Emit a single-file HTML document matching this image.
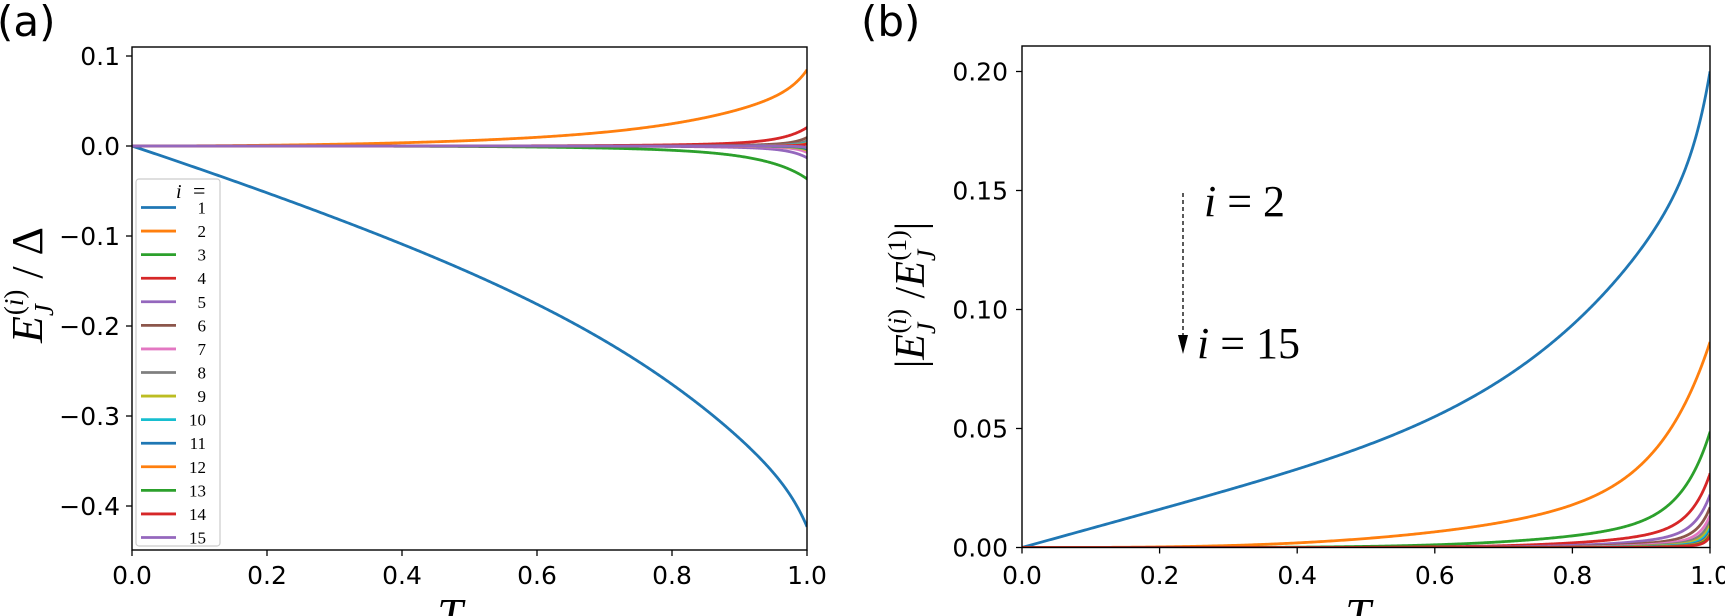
<!DOCTYPE html>
<html><head><meta charset="utf-8"><style>
html,body{margin:0;padding:0;background:#fff;}
svg{display:block;}
.tk{font-family:"DejaVu Sans","Liberation Sans",sans-serif;font-size:25px;fill:#000;}
.m{font-family:"Liberation Serif",serif;font-style:italic;fill:#000;}
.r{font-family:"Liberation Serif",serif;fill:#000;}
</style></head><body>
<svg id="s" width="1725" height="616" viewBox="0 0 1725 616" xmlns="http://www.w3.org/2000/svg">
<defs>
<clipPath id="cA"><rect x="132" y="47" width="675" height="503"/></clipPath>
<clipPath id="cB"><rect x="1022" y="46" width="688" height="501.5"/></clipPath>
</defs>
<text x="-3" y="36" class="tk" style="font-size:42px">(a)</text>
<text x="861" y="36" class="tk" style="font-size:42px">(b)</text>
<g id="A" clip-path="url(#cA)"></g>
<g id="B" clip-path="url(#cB)"></g>
<rect x="132" y="47" width="675" height="503" fill="none" stroke="#000" stroke-width="1.4"/>
<rect x="1022" y="46" width="688" height="501.5" fill="none" stroke="#000" stroke-width="1.4"/>
<g id="T"></g>
<!-- legend -->
<rect x="136" y="179" width="84" height="367" rx="3" fill="#fff" fill-opacity="0.8" stroke="#ccc" stroke-width="1.2"/>
<g id="L"></g>
<text x="176" y="198" class="m" style="font-size:20px">i</text>
<text x="193" y="198" class="r" style="font-size:22px">=</text>
<!-- axis labels -->
<text transform="translate(42,285) rotate(-90)" text-anchor="middle" class="m" style="font-size:44px">E<tspan class="m" style="font-size:27px" dy="11">J</tspan><tspan class="r" style="font-size:27px;font-style:normal" dy="-30" dx="-11">(</tspan><tspan style="font-size:27px">i</tspan><tspan class="r" style="font-size:27px;font-style:normal">)</tspan><tspan class="r" style="font-style:normal" dy="19"> / Δ</tspan></text>
<text transform="translate(924,295) rotate(-90)" text-anchor="middle" class="m" style="font-size:42px"><tspan class="r" style="font-style:normal">|</tspan>E<tspan style="font-size:26px" dy="11">J</tspan><tspan class="r" style="font-size:26px;font-style:normal" dy="-29" dx="-11">(</tspan><tspan style="font-size:26px">i</tspan><tspan class="r" style="font-size:26px;font-style:normal">)</tspan><tspan class="r" style="font-style:normal" dy="18"> /</tspan>E<tspan style="font-size:26px" dy="11">J</tspan><tspan class="r" style="font-size:26px;font-style:normal" dy="-29" dx="-11">(1)</tspan><tspan class="r" style="font-style:normal" dy="18">|</tspan></text>
<text x="450" y="630" text-anchor="middle" class="m" style="font-size:46px">T</text>
<text x="1358" y="630" text-anchor="middle" class="m" style="font-size:46px">T</text>
<!-- annotations -->
<line x1="1183" y1="193" x2="1183" y2="340" stroke="#000" stroke-width="1.3" stroke-dasharray="4,3"/>
<polygon points="1178,335 1188,335 1183,354" fill="#000"/>
<text x="1204" y="216" class="m" style="font-size:44px">i <tspan class="r" style="font-style:normal">= 2</tspan></text>
<text x="1197" y="358" class="m" style="font-size:44px">i <tspan class="r" style="font-style:normal">= 15</tspan></text>
</svg>
<script>
var C=['#1f77b4','#ff7f0e','#2ca02c','#d62728','#9467bd','#8c564b','#e377c2','#7f7f7f','#bcbd22','#17becf'];
var NS='http://www.w3.org/2000/svg';
function el(p,t,a){var e=document.createElementNS(NS,t);for(var k in a)e.setAttribute(k,a[k]);p.appendChild(e);return e;}
function E1(T){return -(0.25*T+0.05*T*T+0.1*Math.pow(T,5)+0.023*Math.pow(T,40));}
var Amp={2:0.2,3:0.0863,4:0.0485,5:0.031};
function A(i){return Amp[i]!==undefined?Amp[i]:0.031*Math.pow(4/(i-1),1.5);}
function g(i,T){
 if(i==2)return 0.4*T+0.45*Math.pow(T,5)+0.15*Math.pow(T,40);
 if(i==3)return 0.35*Math.pow(T,3)+0.65*Math.pow(T,14);
 return 0.3*Math.pow(T,2*i-3)+0.7*Math.pow(T,11*(i-2)+3);
}
function r(i,T){return A(i)*g(i,T);}
var N=600;
function ts(){var a=[];for(var k=0;k<=N;k++){var u=k/N;a.push(1-Math.pow(1-u,2));}return a;}
var TT=ts();
var gA=document.getElementById('A'),gB=document.getElementById('B');
function xA(T){return 132+675*T;} function yA(v){return 146-900*v;}
function xB(T){return 1022+688*T;} function yB(v){return 547.5-2380*v;}
for(var i=1;i<=15;i++){
 var d='';
 TT.forEach(function(T,k){var v=(i==1)?E1(T):Math.pow(-1,i)*r(i,T)*Math.abs(E1(T));d+=(k?'L':'M')+xA(T).toFixed(2)+','+yA(v).toFixed(2);});
 el(gA,'path',{d:d,fill:'none',stroke:C[(i-1)%10],'stroke-width':2.8});
}
for(var i=2;i<=15;i++){
 var d='';
 TT.forEach(function(T,k){d+=(k?'L':'M')+xB(T).toFixed(2)+','+yB(r(i,T)).toFixed(2);});
 el(gB,'path',{d:d,fill:'none',stroke:C[(i-2)%10],'stroke-width':2.8});
}
var gT=document.getElementById('T');
function txt(x,y,s,anc){var t=el(gT,'text',{x:x,y:y,'class':'tk','text-anchor':anc});t.textContent=s;}
[0,0.2,0.4,0.6,0.8,1].forEach(function(T){
 var s=T.toFixed(1);
 el(gT,'line',{x1:xA(T),y1:550,x2:xA(T),y2:556,stroke:'#000','stroke-width':1.3});
 txt(xA(T),584,s,'middle');
 el(gT,'line',{x1:xB(T),y1:547.5,x2:xB(T),y2:553.5,stroke:'#000','stroke-width':1.3});
 txt(xB(T),584,s,'middle');
});
[0.1,0,-0.1,-0.2,-0.3,-0.4].forEach(function(v){
 var y=yA(v);el(gT,'line',{x1:126,y1:y,x2:132,y2:y,stroke:'#000','stroke-width':1.3});
 txt(120,y+9,(v<0?'\u2212':'')+Math.abs(v).toFixed(1),'end');
});
[0,0.05,0.1,0.15,0.2].forEach(function(v){
 var y=yB(v);el(gT,'line',{x1:1016,y1:y,x2:1022,y2:y,stroke:'#000','stroke-width':1.3});
 txt(1008,y+9,v.toFixed(2),'end');
});
var gL=document.getElementById('L');
for(var i=1;i<=15;i++){
 var y=207.5+(537.5-207.5)*(i-1)/14;
 el(gL,'line',{x1:141,y1:y,x2:176,y2:y,stroke:C[(i-1)%10],'stroke-width':2.8});
 var t=el(gL,'text',{x:206,y:y+6,'class':'r','text-anchor':'end',style:'font-size:17px'});t.textContent=String(i);
}
</script>
</body></html>
